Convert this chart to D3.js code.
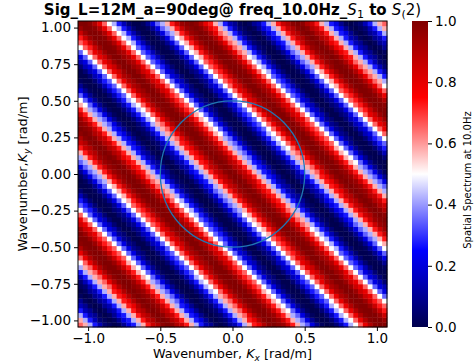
<!DOCTYPE html>
<html>
<head>
<meta charset="utf-8">
<script src="https://cdn.jsdelivr.net/npm/d3@7"></script>
<style>
  body { margin: 0; background: #fff; }
  text { font-family: "DejaVu Sans", sans-serif; }
</style>
</head>
<body>
<svg width="474" height="362"></svg>
<script>
// spectrum read along the diagonal s = Kx + Ky (the stripes run at 45 deg),
// one value every sStep starting at sStart
var sStep = 0.018513;
var sStart = -115 * sStep;
var profile = [
  0.854, 0.794, 0.727, 0.655, 0.578, 0.500, 0.422, 0.345, 0.273, 0.206, 0.146, 0.095, 0.054, 0.024, 0.006,
  0.000, 0.006, 0.024, 0.054, 0.095, 0.146, 0.206, 0.273, 0.345, 0.422, 0.500, 0.578, 0.655, 0.727, 0.794, 0.854, 0.905, 0.946, 0.976, 0.994,
  1.000, 0.994, 0.976, 0.946, 0.905, 0.854, 0.794, 0.727, 0.655, 0.578, 0.500, 0.422, 0.345, 0.273, 0.206, 0.146, 0.095, 0.054, 0.024, 0.006,
  0.000, 0.006, 0.024, 0.054, 0.095, 0.146, 0.206, 0.273, 0.345, 0.422, 0.500, 0.578, 0.655, 0.727, 0.794, 0.854, 0.905, 0.946, 0.976, 0.994,
  1.000, 0.994, 0.976, 0.946, 0.905, 0.854, 0.794, 0.727, 0.655, 0.578, 0.500, 0.422, 0.345, 0.273, 0.206, 0.146, 0.095, 0.054, 0.024, 0.006,
  0.000, 0.006, 0.024, 0.054, 0.095, 0.146, 0.206, 0.273, 0.345, 0.422, 0.500, 0.578, 0.655, 0.727, 0.794, 0.854, 0.905, 0.946, 0.976, 0.994,
  1.000, 0.994, 0.976, 0.946, 0.905, 0.854, 0.794, 0.727, 0.655, 0.578, 0.500, 0.422, 0.345, 0.273, 0.206, 0.146, 0.095, 0.054, 0.024, 0.006,
  0.000, 0.006, 0.024, 0.054, 0.095, 0.146, 0.206, 0.273, 0.345, 0.422, 0.500, 0.578, 0.655, 0.727, 0.794, 0.854, 0.905, 0.946, 0.976, 0.994,
  1.000, 0.994, 0.976, 0.946, 0.905, 0.854, 0.794, 0.727, 0.655, 0.578, 0.500, 0.422, 0.345, 0.273, 0.206, 0.146, 0.095, 0.054, 0.024, 0.006,
  0.000, 0.006, 0.024, 0.054, 0.095, 0.146, 0.206, 0.273, 0.345, 0.422, 0.500, 0.578, 0.655, 0.727, 0.794, 0.854, 0.905, 0.946, 0.976, 0.994,
  1.000, 0.994, 0.976, 0.946, 0.905, 0.854, 0.794, 0.727, 0.655, 0.578, 0.500, 0.422, 0.345, 0.273, 0.206, 0.146, 0.095, 0.054, 0.024, 0.006,
  0.000, 0.006, 0.024, 0.054, 0.095, 0.146, 0.206, 0.273, 0.345, 0.422, 0.500, 0.578, 0.655, 0.727, 0.794, 0.854
];
var kxExtent = [-1.07, 1.07];
var kyExtent = [-1.045, 1.045];
var nCells = 64;
var xTicks = [-1.0, -0.5, 0.0, 0.5, 1.0];
var yTicks = [-1.0, -0.75, -0.5, -0.25, 0.0, 0.25, 0.5, 0.75, 1.0];
var cbTicks = [0.0, 0.2, 0.4, 0.6, 0.8, 1.0];
var circleRadius = 0.5;

var svg = d3.select("svg");
var pLeft = 78, pRight = 387, pTop = 21, pBottom = 327;
var cbLeft = 412, cbRight = 428;

var x = d3.scaleLinear().domain(kxExtent).range([pLeft, pRight]);
var y = d3.scaleLinear().domain(kyExtent).range([pBottom, pTop]);
// matplotlib "seismic"
var color = d3.scaleLinear()
    .domain([0, 0.25, 0.5, 0.75, 1])
    .range(["#00004d", "#0000ff", "#ffffff", "#ff0000", "#800000"]);

var dkx = (kxExtent[1] - kxExtent[0]) / nCells;
var dky = (kyExtent[1] - kyExtent[0]) / nCells;
var cells = [];
d3.range(nCells).forEach(function(i) {
    d3.range(nCells).forEach(function(j) {
        var kx = kxExtent[0] + i * dkx, ky = kyExtent[0] + j * dky;
        var s = kx + dkx / 2 + ky + dky / 2;
        var k = Math.round((s - sStart) / sStep);
        k = Math.max(0, Math.min(profile.length - 1, k));
        cells.push({kx: kx, ky: ky, v: profile[k]});
    });
});

svg.append("g").selectAll("rect")
    .data(cells)
    .enter().append("rect")
    .attr("x", function(d) { return x(d.kx); })
    .attr("y", function(d) { return y(d.ky + dky); })
    .attr("width", function(d) { return x(d.kx + dkx) - x(d.kx) + 0.4; })
    .attr("height", function(d) { return y(d.ky) - y(d.ky + dky) + 0.4; })
    .attr("fill", function(d) { return color(d.v); });

svg.append("ellipse")
    .attr("cx", x(0)).attr("cy", y(0))
    .attr("rx", x(circleRadius) - x(0))
    .attr("ry", y(0) - y(circleRadius))
    .attr("fill", "none")
    .attr("stroke", "#1f77b4")
    .attr("stroke-width", 1.3);

svg.append("rect")
    .attr("x", pLeft).attr("y", pTop)
    .attr("width", pRight - pLeft).attr("height", pBottom - pTop)
    .attr("fill", "none").attr("stroke", "#000").attr("stroke-width", 1);

var xAxis = svg.append("g")
    .attr("transform", "translate(0," + pBottom + ")")
    .call(d3.axisBottom(x).tickValues(xTicks).tickFormat(d3.format(".1f")).tickSize(4).tickPadding(2));
var yAxis = svg.append("g")
    .attr("transform", "translate(" + pLeft + ",0)")
    .call(d3.axisLeft(y).tickValues(yTicks).tickFormat(d3.format(".2f")).tickSize(4).tickPadding(3));
[xAxis, yAxis].forEach(function(g) {
    g.select(".domain").remove();
    g.selectAll("text").attr("font-size", 13.5).attr("fill", "#000")
        .attr("font-family", "DejaVu Sans, sans-serif");
});

// colorbar
var cb = d3.scaleLinear().domain([0, 1]).range([pBottom, pTop]);
var grad = svg.append("defs").append("linearGradient")
    .attr("id", "seismic").attr("x1", 0).attr("y1", 1).attr("x2", 0).attr("y2", 0);
grad.selectAll("stop")
    .data(color.domain())
    .enter().append("stop")
    .attr("offset", function(d) { return d; })
    .attr("stop-color", function(d) { return color(d); });
svg.append("rect")
    .attr("x", cbLeft).attr("y", pTop)
    .attr("width", cbRight - cbLeft).attr("height", pBottom - pTop)
    .attr("fill", "url(#seismic)");
var cbAxis = svg.append("g")
    .attr("transform", "translate(" + cbRight + ",0)")
    .call(d3.axisRight(cb).tickValues(cbTicks).tickFormat(d3.format(".1f")).tickSize(4).tickPadding(3));
cbAxis.select(".domain").remove();
cbAxis.selectAll("text").attr("font-size", 13.5).attr("fill", "#000")
    .attr("font-family", "DejaVu Sans, sans-serif");

svg.append("text")
    .attr("transform", "translate(471,180) rotate(-90)")
    .attr("text-anchor", "middle")
    .attr("font-size", 10)
    .text("Spatial Spectrum at 10.0Hz");

// axis labels
var xl = svg.append("text")
    .attr("x", (pLeft + pRight) / 2).attr("y", 358)
    .attr("text-anchor", "middle").attr("font-size", 12.8);
xl.append("tspan").text("Wavenumber, ");
xl.append("tspan").attr("font-style", "italic").text("K");
xl.append("tspan").attr("font-style", "italic").attr("font-size", 9).attr("dy", 3).text("x");
xl.append("tspan").attr("dy", -3).text(" [rad/m]");

var yl = svg.append("text")
    .attr("transform", "translate(27," + (pTop + pBottom) / 2 + ") rotate(-90)")
    .attr("text-anchor", "middle").attr("font-size", 12.8);
yl.append("tspan").text("Wavenumber,");
yl.append("tspan").attr("font-style", "italic").text("K");
yl.append("tspan").attr("font-style", "italic").attr("font-size", 9).attr("dy", 3).text("y");
yl.append("tspan").attr("dy", -3).text(" [rad/m]");

// title
var title = svg.append("text")
    .attr("x", (pLeft + pRight) / 2).attr("y", 15)
    .attr("text-anchor", "middle").attr("font-size", 16).attr("font-weight", "bold");
title.append("tspan").text("Sig_L=12M_a=90deg@ freq_10.0Hz_");
title.append("tspan").attr("font-style", "italic").attr("font-weight", "normal").text("S");
title.append("tspan").attr("font-weight", "normal").attr("font-size", 11).attr("dy", 3).text("1");
title.append("tspan").attr("dy", -3).text(" to ");
title.append("tspan").attr("font-style", "italic").attr("font-weight", "normal").text("S");
title.append("tspan").attr("font-weight", "normal").attr("font-size", 11).attr("dy", 3).text("(");
title.append("tspan").attr("font-weight", "normal").attr("dy", -3).text("2)");
var tw = title.node().getComputedTextLength();
title.attr("font-size", 16 * 377 / tw);
</script>
</body>
</html>
